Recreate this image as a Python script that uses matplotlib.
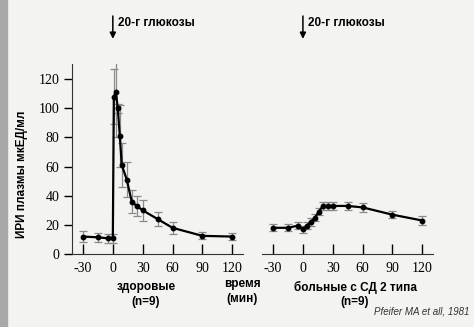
import numpy as np
import matplotlib.pyplot as plt
from matplotlib.patches import Rectangle

# healthy subjects (n=9)
t_healthy = [-30, -15, -5, 0, 1, 3, 5, 7, 9, 14, 19, 24, 30, 45, 60, 90, 120]
iri_healthy = [12, 11.5, 10.8, 10.8, 108, 111, 100, 81, 61, 51, 36, 33, 30, 24, 18, 12.5, 12]
err_healthy = [3.5, 3, 3, 3, 19, 31, 3, 21.5, 15, 12, 8, 7, 7, 5, 4, 2.5, 2.5]

# type 2 diabetes patients (n=9)
t_dm2 = [-30, -15, -5, 0, 4, 8, 12, 16, 20, 25, 30, 45, 60, 90, 120]
iri_dm2 = [18, 18, 19.5, 17, 19.5, 22, 25, 29, 33, 33, 33, 33, 32, 27, 23]
err_dm2 = [2.5, 2.5, 2.5, 2.5, 2.5, 2.5, 2.5, 2.5, 2.5, 2.5, 2.5, 2.5, 3, 2.5, 3]

xticks = [-30, 0, 30, 60, 90, 120]
yticks = [0, 20, 40, 60, 80, 100, 120]

bg = '#f3f3f1'
fig = plt.figure(figsize=(4.74, 3.27), dpi=100, facecolor=bg)
fig.patches.append(Rectangle((0, 0), 0.014, 1, transform=fig.transFigure,
                             color='#a8a8a8', zorder=0))

ax1 = fig.add_axes([0.152, 0.223, 0.361, 0.580], facecolor=bg)
ax2 = fig.add_axes([0.553, 0.223, 0.361, 0.580], facecolor=bg)

for ax, t, y, e in [(ax1, t_healthy, iri_healthy, err_healthy),
                    (ax2, t_dm2, iri_dm2, err_dm2)]:
    ax.errorbar(t, y, yerr=e, fmt='none', ecolor='#8a8a8a', elinewidth=0.9,
                capsize=3, capthick=0.9, zorder=2)
    ax.plot(t, y, color='black', lw=1.6, marker='o', ms=3.2, zorder=3)
    ax.set_xlim(-41, 131)
    ax.set_ylim(0, 130)
    ax.set_xticks(xticks)
    ax.set_xticklabels([str(v) for v in xticks], family='Liberation Serif', fontsize=10)
    ax.tick_params(axis='x', direction='in', length=7, width=1, pad=6)
    ax.spines['top'].set_visible(False)
    ax.spines['right'].set_visible(False)
    ax.spines['bottom'].set_color('#333333')

ax1.set_yticks(yticks)
ax1.set_yticklabels([str(v) for v in yticks], family='Liberation Serif', fontsize=10)
ax1.tick_params(axis='y', direction='out', length=6, width=1, pad=3)
ax1.spines['left'].set_color('#333333')
ax2.spines['left'].set_visible(False)
ax2.set_yticks([])

# glucose arrows
lab = dict(family='Liberation Sans', weight='bold', fontsize=8.5)
for ax in (ax1, ax2):
    ax.annotate('', xy=(0, 1.12), xytext=(0, 1.27), xycoords=('data', 'axes fraction'),
                arrowprops=dict(arrowstyle='-|>', color='black', lw=1.1,
                                mutation_scale=9), annotation_clip=False)
    ax.text(5, 1.22, '20-г глюкозы', transform=ax.get_xaxis_transform(),
            ha='left', va='center', **lab)

fig.text(146 / 474, 1 - 287 / 327, 'здоровые', ha='center', va='center', **lab)
fig.text(146 / 474, 1 - 302 / 327, '(n=9)', ha='center', va='center', **lab)
fig.text(242 / 474, 1 - 284 / 327, 'время', ha='center', va='center', **lab)
fig.text(242 / 474, 1 - 299 / 327, '(мин)', ha='center', va='center', **lab)
fig.text(356 / 474, 1 - 287 / 327, 'больные с СД 2 типа', ha='center', va='center', **lab)
fig.text(355 / 474, 1 - 302 / 327, '(n=9)', ha='center', va='center', **lab)
fig.text(22 / 474, 1 - 174 / 327, 'ИРИ плазмы мкЕД/мл', rotation=90,
         ha='center', va='center', **lab)
fig.text(469 / 474, 1 - 311 / 327, 'Pfeifer MA et all, 1981', ha='right', va='center',
         family='Liberation Sans', style='italic', fontsize=7, color='#333333')

fig.savefig('out.png', dpi=100, facecolor=bg)
